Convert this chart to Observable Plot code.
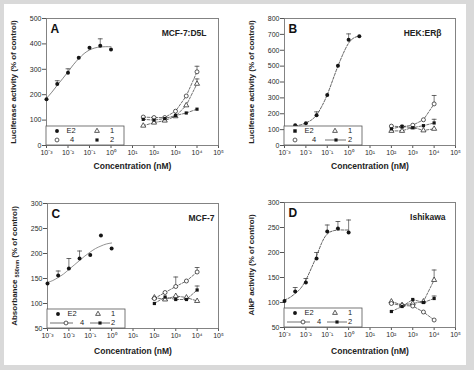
<!DOCTYPE html>
<html><head><meta charset="utf-8">
<script src="https://cdn.jsdelivr.net/npm/d3@7"></script>
<script src="https://cdn.jsdelivr.net/npm/@observablehq/plot@0.6"></script>
<style>
html,body{margin:0;padding:0;}
body{width:474px;height:370px;background:#d9d9d9;position:relative;overflow:hidden;font-family:'Liberation Sans',Arial,sans-serif;}
#sheet{position:absolute;left:4px;top:4px;width:462px;height:361px;background:#fff;}
svg.panel{position:absolute;}
</style></head><body><div id="sheet"></div>
<script>
// ---- shared axis values ----
const xTicks = [0.001, 0.01, 0.1, 1, 10, 100, 1000, 10000, 100000];
const xTickLabels = ["10⁻³","10⁻²","10⁻¹","10⁰","10¹","10²","10³","10⁴","10⁵"];
const xLabel = "Concentration (nM)";
const legendLabels = ["E2", "1", "4", "2"];
const halfDecades7 = [0.001, 0.003162, 0.01, 0.03162, 0.1, 0.3162, 1];
const quarterDecades = [0.001, 0.001778, 0.003162, 0.005623, 0.01, 0.01778, 0.03162, 0.05623, 0.1, 0.1778, 0.3162, 0.5623, 1];

// ---- Panel A : MCF-7:D5L ----
const yTicksA = [0, 100, 200, 300, 400, 500];
const e2ConcA = halfDecades7;
const e2ValA = [182, 242, 286, 345, 385, 393, 378];
const e2ErrA = [null, 255, 302, null, null, 420, null];
const fitConcA = quarterDecades;
const fitValA = [186, 210, 237, 263, 290, 318, 342, 362, 376, 384, 388, 389, 389];
const cmpConcA = [31.62, 100, 316.2, 1000, 3162, 10000];
const c1ValA = [78, 90, 98, 115, 158, 243];
const c1ErrA = [null, null, null, null, null, 262];
const c4ValA = [112, 110, 110, 135, 195, 290];
const c4ErrA = [null, null, null, null, null, 312];
const c2ValA = [103, 100, 106, 118, 128, 143];
const c2ErrA = [null, null, null, null, null, null];

// ---- Panel B : HEK:ERβ ----
const yTicksB = [0, 100, 200, 300, 400, 500, 600, 700, 800];
const e2ConcB = [0.003162, 0.01, 0.03162, 0.1, 0.3162, 1, 3.162];
const e2ValB = [128, 140, 190, 318, 502, 666, 688];
const e2ErrB = [null, null, 212, null, null, 703, null];
const fitConcB = [0.003162, 0.005623, 0.01, 0.01778, 0.03162, 0.05623, 0.1, 0.1778, 0.3162, 0.5623, 1, 1.778, 3.162];
const fitValB = [124, 130, 142, 160, 192, 248, 320, 410, 500, 580, 645, 678, 690];
const cmpConcB = [100, 316.2, 1000, 3162, 10000];
const c1ValB = [92, 92, 115, 95, 105];
const c1ErrB = [null, null, null, null, null];
const c4ValB = [122, 118, 128, 162, 262];
const c4ErrB = [null, null, null, null, 315];
const c2ValB = [105, 120, 112, 125, 142];
const c2ErrB = [null, null, null, null, 165];

// ---- Panel C : MCF-7 ----
const yTicksC = [50, 100, 150, 200, 250, 300];
const e2ConcC = halfDecades7;
const e2ValC = [140, 156, 170, 190, 197, 236, 210];
const e2ErrC = [null, 165, 190, 205, null, null, null];
const fitConcC = quarterDecades;
const fitValC = [142, 146, 152, 159, 168, 177, 186, 195, 203, 210, 215, 219, 221];
const cmpConcC = [100, 316.2, 1000, 3162, 10000];
const c1ValC = [112, 108, 115, 112, 105];
const c1ErrC = [null, null, null, null, null];
const c4ValC = [110, 122, 134, 145, 163];
const c4ErrC = [null, null, 153, null, 172];
const c2ValC = [100, 113, 108, 108, 127];
const c2ErrC = [null, null, null, null, 135];

// ---- Panel D : Ishikawa ----
const yTicksD = [50, 100, 150, 200, 250, 300];
const e2ConcD = halfDecades7;
const e2ValD = [103, 122, 140, 188, 242, 248, 240];
const e2ErrD = [null, 130, 148, 200, 255, 262, 265];
const fitConcD = quarterDecades;
const fitValD = [105, 110, 118, 128, 145, 168, 193, 220, 237, 243, 245, 245, 245];
const cmpConcD = [100, 316.2, 1000, 3162, 10000];
const c1ValD = [102, 95, 98, 102, 145];
const c1ErrD = [null, null, null, null, 165];
const c4ValD = [98, 94, 93, 81, 65];
const c4ErrD = [null, null, null, null, null];
const c2ValD = [82, 92, 106, 100, 108];
const c2ErrD = [null, null, null, null, 113];

const panels = [
  {left:0, top:0, ml:46, mr:19, mt:18, mb:40, letter:"A", cell:"MCF-7:D5L", cellDx:12,
   ylabel:"Luciferase activity (% of control)", yDomain:[0,500], yTicks:yTicksA,
   e2Conc:e2ConcA, e2Val:e2ValA, e2Err:e2ErrA, fitConc:fitConcA, fitVal:fitValA, fitDash:null, fitStroke:"#666",
   cmpConc:cmpConcA, c1:[c1ValA,c1ErrA], c4:[c4ValA,c4ErrA], c2:[c2ValA,c2ErrA], legendStyle:"plain", e2Sym:"circle", xdy:21},
  {left:237, top:0, ml:47, mr:19, mt:18, mb:40, letter:"B", cell:"HEK:ERβ", cellDx:14,
   ylabel:"Luciferase activity (% of control)", yDomain:[0,800], yTicks:yTicksB,
   e2Conc:e2ConcB, e2Val:e2ValB, e2Err:e2ErrB, fitConc:fitConcB, fitVal:fitValB, fitDash:"2.5,1.5", fitStroke:"#333",
   cmpConc:cmpConcB, c1:[c1ValB,c1ErrB], c4:[c4ValB,c4ErrB], c2:[c2ValB,c2ErrB], legendStyle:"line2", e2Sym:"square", xdy:21},
  {left:0, top:185, ml:47, mr:19, mt:18, mb:42, letter:"C", cell:"MCF-7", cellDx:4,
   ylabel:"Absorbance 550nm (% of control)", yDomain:[50,300], yTicks:yTicksC,
   e2Conc:e2ConcC, e2Val:e2ValC, e2Err:e2ErrC, fitConc:fitConcC, fitVal:fitValC, fitDash:null, fitStroke:"#777",
   cmpConc:cmpConcC, c1:[c1ValC,c1ErrC], c4:[c4ValC,c4ErrC], c2:[c2ValC,c2ErrC], legendStyle:"lines", e2Sym:"circle", xdy:23},
  {left:237, top:185, ml:47, mr:19, mt:17, mb:43, letter:"D", cell:"Ishikawa", cellDx:10,
   ylabel:"AlkP activity (% of control)", yDomain:[50,300], yTicks:yTicksD,
   e2Conc:e2ConcD, e2Val:e2ValD, e2Err:e2ErrD, fitConc:fitConcD, fitVal:fitValD, fitDash:"2.5,1.5", fitStroke:"#333",
   cmpConc:cmpConcD, c1:[c1ValD,c1ErrD], c4:[c4ValD,c4ErrD], c2:[c2ValD,c2ErrD], legendStyle:"lines", e2Sym:"circle", xdy:24}
];

const capSymbol = {draw(ctx, size){ const w = Math.sqrt(size/Math.PI); ctx.moveTo(-w,0); ctx.lineTo(w,0); }};
const ink = "#151515";
const dash = "2.5,1.5";

function buildPanel(p) {
  const e2 = p.e2Conc.map((x,i)=>({x, y:p.e2Val[i], e:p.e2Err[i]}));
  const fit = p.fitConc.map((x,i)=>({x, y:p.fitVal[i]}));
  const ser = (arr) => p.cmpConc.map((x,i)=>({x, y:arr[0][i], e:arr[1][i]}));
  const s1 = ser(p.c1), s4 = ser(p.c4), s2 = ser(p.c2);
  const errs = [...e2, ...s1, ...s4, ...s2].filter(d=>d.e != null);
  const W = 237, H = 185;
  const svg = Plot.plot({
    width: W, height: H,
    marginLeft: p.ml, marginRight: p.mr, marginTop: p.mt, marginBottom: p.mb,
    style: {background:"transparent", fontFamily:"'Liberation Sans', Arial, sans-serif", fontSize:"7px", color:"#2a2a2a", overflow:"visible"},
    x: {type:"log", domain:[0.001, 100000]},
    y: {domain: p.yDomain},
    marks: [
      Plot.axisX(xTicks, {tickSize:3, tickPadding:2, tickFormat:d=>xTickLabels[xTicks.indexOf(d)], label:null, stroke:"#555"}),
      Plot.axisY(p.yTicks, {tickSize:4, tickPadding:1, label:null, stroke:"#555"}),
      Plot.frame({stroke:"#777", strokeWidth:0.9}),
      Plot.line(fit, {x:"x", y:"y", curve:"natural", stroke:p.fitStroke, strokeWidth:0.8, strokeDasharray:p.fitDash}),
      Plot.line(s1, {x:"x", y:"y", stroke:"#333", strokeWidth:0.7, strokeDasharray:dash}),
      Plot.line(s4, {x:"x", y:"y", stroke:"#333", strokeWidth:0.7, strokeDasharray:dash}),
      Plot.line(s2, {x:"x", y:"y", stroke:"#333", strokeWidth:0.7, strokeDasharray:dash}),
      Plot.ruleX(errs, {x:"x", y1:"y", y2:"e", stroke:"#444", strokeWidth:0.7}),
      Plot.dot(errs, {x:"x", y:"e", symbol:capSymbol, r:2.4, fill:"none", stroke:"#444", strokeWidth:0.8}),
      Plot.dot(e2, {x:"x", y:"y", symbol:"circle", r:2, fill:ink, stroke:"none"}),
      Plot.dot(s1, {x:"x", y:"y", symbol:"triangle", r:1.9, fill:"#fff", stroke:ink, strokeWidth:0.7}),
      Plot.dot(s4, {x:"x", y:"y", symbol:"circle", r:2, fill:"#fff", stroke:ink, strokeWidth:0.7}),
      Plot.dot(s2, {x:"x", y:"y", symbol:"square", r:1.8, fill:ink, stroke:"none"}),
      Plot.text([p.letter], {frameAnchor:"top-left", textAnchor:"start", lineAnchor:"middle", dx:4, dy:11, fontSize:12, fontWeight:"bold", fill:"#111"}),
      Plot.text([p.cell], {frameAnchor:"top-right", textAnchor:"end", lineAnchor:"middle", dx:-p.cellDx, dy:14.5, fontSize:8.5, fontWeight:"bold", fill:"#222"}),
      Plot.text([p.ylabel], {frameAnchor:"left", textAnchor:"middle", lineAnchor:"middle", rotate:-90, dx:-33, fontSize:8, fontWeight:"bold", fill:"#222"}),
      Plot.text([xLabel], {frameAnchor:"bottom", textAnchor:"middle", lineAnchor:"middle", dy:p.xdy, fontSize:8.5, fontWeight:"bold", fill:"#222"})
    ]
  });
  svg.classList.add("panel");
  svg.style.left = p.left + "px";
  svg.style.top = p.top + "px";

  // subscript for absorbance wavelength
  d3.select(svg).selectAll("text").filter(function(){ return this.textContent === "Absorbance 550nm (% of control)"; })
    .each(function(){
      const t = d3.select(this);
      t.text(null);
      t.append("tspan").text("Absorbance ");
      t.append("tspan").attr("font-size","5.5px").attr("dy","2").text("550nm");
      t.append("tspan").attr("dy","-2").text(" (% of control)");
    });

  // legend box
  const g = d3.select(svg).append("g").attr("font-size","7.5px").attr("fill","#222");
  const x0 = p.ml, yb = H - p.mb;
  g.append("rect").attr("x", x0).attr("y", yb-19).attr("width", 78).attr("height", 19)
    .attr("fill","#fff").attr("stroke","#555").attr("stroke-width",0.8);
  const r1 = yb-14, r2 = yb-5;
  const sym = (type, cx, cy, filled, size) => {
    g.append("path").attr("d", d3.symbol(type, size)())
      .attr("transform", `translate(${cx},${cy})`)
      .attr("fill", filled ? ink : "#fff").attr("stroke", filled ? "none" : ink).attr("stroke-width", 0.7);
  };
  const seg = (xa, xb, cy) => g.append("line").attr("x1", xa).attr("x2", xb).attr("y1", cy).attr("y2", cy)
      .attr("stroke","#333").attr("stroke-width",0.7);
  const lab = (s, x, cy) => g.append("text").attr("x", x).attr("y", cy).attr("dy","0.32em").text(s);
  // row 1
  sym(p.e2Sym === "square" ? d3.symbolSquare : d3.symbolCircle, x0+11, r1, true, 12);
  lab(legendLabels[0], x0+25, r1);
  sym(d3.symbolTriangle, x0+51, r1, false, 10);
  lab(legendLabels[1], x0+66, r1);
  // row 2
  if (p.legendStyle === "lines") {
    seg(x0+3, x0+26, r2); sym(d3.symbolCircle, x0+19, r2, false, 12);
    lab(legendLabels[2], x0+35, r2);
    seg(x0+43, x0+63, r2); sym(d3.symbolSquare, x0+53, r2, true, 10);
  } else if (p.legendStyle === "line2") {
    sym(d3.symbolCircle, x0+11, r2, false, 12);
    lab(legendLabels[2], x0+30, r2);
    seg(x0+41, x0+62, r2); sym(d3.symbolSquare, x0+52, r2, true, 10);
  } else {
    sym(d3.symbolCircle, x0+11, r2, false, 12);
    lab(legendLabels[2], x0+26, r2);
    sym(d3.symbolSquare, x0+51, r2, true, 10);
  }
  lab(legendLabels[3], x0+66, r2);
  return svg;
}

for (const p of panels) document.body.appendChild(buildPanel(p));
</script></body></html>
